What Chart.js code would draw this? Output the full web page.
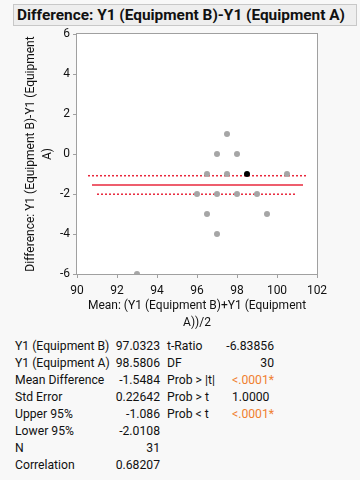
<!DOCTYPE html>
<html>
<head>
<meta charset="utf-8">
<script src="https://cdn.jsdelivr.net/npm/chart.js@4"></script>
<style>
  body { margin: 0; background: #f8f8f8; font-family: Roboto, sans-serif; color: #111; }
  #wrap { position: relative; width: 360px; height: 480px; overflow: hidden; }
  #title { position: absolute; left: 13px; top: 4px; width: 339px; height: 20px; background: #eeeeee;
           border: 1px solid #c8c8c8; font-weight: bold; font-size: 15.4px; line-height: 20px; padding-left: 3px; box-sizing: content-box; white-space: nowrap; }
  #chart { position: absolute; left: 0; top: 0; }
  .row { position: absolute; font-size: 12.2px; line-height: 17px; white-space: nowrap; }
  .orange { color: #f08030; }
</style>
</head>
<body>
<div id="wrap">
  <canvas id="chart" width="360" height="335"></canvas>
  <div id="title">Difference: Y1 (Equipment B)-Y1 (Equipment A)</div>
  <div id="stats"></div>
</div>
<script>
// Valores
const diffX = [97.5, 97, 98, 96.5, 97.5, 100.5, 96, 97, 98, 99, 96.5, 99.5, 97, 93];
const diffY = [1, 0, 0, -1, -1, -1, -2, -2, -2, -2, -3, -3, -4, -6];
const selX = [98.5];
const selY = [-1];

const meanDiff = -1.5484;
const upper95 = -1.086;
const lower95 = -2.0108;
const meanLineX = [90.75, 101.3];
const upperLineX = [90.55, 101.5];
const lowerLineX = [91, 101];

const xTicks = [90, 92, 94, 96, 98, 100, 102];
const yTicks = [-6, -4, -2, 0, 2, 4, 6];

// Tabela de estatísticas
const statLabels = ['Y1 (Equipment B)', 'Y1 (Equipment A)', 'Mean Difference', 'Std Error', 'Upper 95%', 'Lower 95%', 'N', 'Correlation'];
const statValues = ['97.0323', '98.5806', '-1.5484', '0.22642', '-1.086', '-2.0108', '31', '0.68207'];
const testLabels = ['t-Ratio', 'DF', 'Prob > |t|', 'Prob > t', 'Prob < t'];
const testValues = ['-6.83856', '30', '<.0001*', '1.0000', '<.0001*'];
const testOrange = [false, false, true, false, true];

const stats = document.getElementById('stats');
statLabels.forEach((lab, i) => {
    const top = 338 + i * 17;
    stats.innerHTML += `<div class="row" style="left:15px;top:${top}px">${lab}</div>`;
    stats.innerHTML += `<div class="row" style="right:200px;top:${top}px">${statValues[i]}</div>`;
});
testLabels.forEach((lab, i) => {
    const top = 338 + i * 17;
    stats.innerHTML += `<div class="row" style="left:167px;top:${top}px">${lab}</div>`;
    const v = testValues[i];
    if (i < 2) {
        stats.innerHTML += `<div class="row" style="right:86px;top:${top}px">${v}</div>`;
    } else {
        stats.innerHTML += `<div class="row ${testOrange[i] ? 'orange' : ''}" style="left:232px;top:${top}px">${v}</div>`;
    }
});

const pts = (xs, ys) => xs.map((x, i) => ({ x: x, y: ys[i] }));
const hline = (xs, y) => xs.map(x => ({ x: x, y: y }));

// Fundo branco e moldura da área do gráfico
const frame = {
    id: 'frame',
    beforeDraw(chart) {
        const a = chart.chartArea, ctx = chart.ctx;
        ctx.save();
        ctx.fillStyle = '#ffffff';
        ctx.fillRect(a.left, a.top, a.right - a.left, a.bottom - a.top);
        ctx.restore();
    },
    afterDatasetsDraw(chart) {
        const a = chart.chartArea, ctx = chart.ctx;
        ctx.save();
        ctx.strokeStyle = '#a0a0a0';
        ctx.lineWidth = 1;
        ctx.strokeRect(a.left - 0.5, a.top - 0.5, a.right - a.left + 1, a.bottom - a.top + 1);
        ctx.restore();
    }
};

const red = '#e8283c';
const font = { family: 'Roboto, sans-serif', size: 12 };
const titleFont = { family: 'Roboto, sans-serif', size: 12, lineHeight: 1.4 };

new Chart(document.getElementById('chart'), {
    type: 'scatter',
    data: {
        datasets: [
            { type: 'line', data: hline(meanLineX, meanDiff), borderColor: red, borderWidth: 1.5, pointRadius: 0, order: 3 },
            { type: 'line', data: hline(upperLineX, upper95), borderColor: red, borderWidth: 1.5, borderDash: [2, 2], pointRadius: 0, order: 3 },
            { type: 'line', data: hline(lowerLineX, lower95), borderColor: red, borderWidth: 1.5, borderDash: [2, 2], pointRadius: 0, order: 3 },
            { data: pts(diffX, diffY), backgroundColor: '#a6a6a6', borderWidth: 0, pointRadius: 3, clip: 0, order: 2 },
            { data: pts(selX, selY), backgroundColor: '#000000', borderWidth: 0, pointRadius: 3, clip: 0, order: 1 }
        ]
    },
    options: {
        responsive: false,
        animation: false,
        layout: { padding: { top: 34, right: 43, left: 0, bottom: 0 } },
        plugins: { legend: { display: false }, tooltip: { enabled: false } },
        scales: {
            x: {
                type: 'linear', min: 90, max: 102,
                afterBuildTicks: s => { s.ticks = xTicks.map(v => ({ value: v })); },
                afterFit: s => { s.height = 61; },
                grid: { drawOnChartArea: false, tickLength: 4, color: '#a0a0a0' },
                border: { display: false },
                ticks: { font: font, color: '#111', padding: 6, maxRotation: 0 },
                title: { display: true, text: ['Mean: (Y1 (Equipment B)+Y1 (Equipment', 'A))/2'], font: titleFont, color: '#111', padding: { top: 0, bottom: 4 } }
            },
            y: {
                type: 'linear', min: -6, max: 6,
                afterBuildTicks: s => { s.ticks = yTicks.map(v => ({ value: v })); },
                afterFit: s => { s.width = 77; },
                grid: { drawOnChartArea: false, tickLength: 4, color: '#a0a0a0' },
                border: { display: false },
                ticks: { font: font, color: '#111', padding: 3 },
                title: { display: true, text: ['Difference: Y1 (Equipment B)-Y1 (Equipment', 'A)'], font: titleFont, color: '#111', padding: { top: 23, bottom: 0 } }
            }
        }
    },
    plugins: [frame]
});
</script>
</body>
</html>
